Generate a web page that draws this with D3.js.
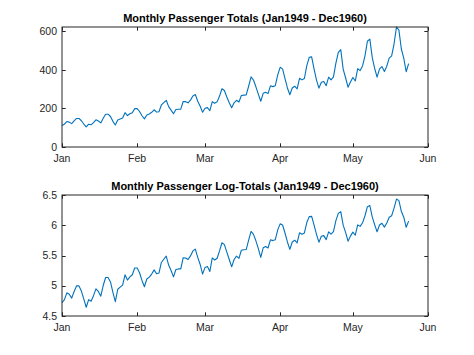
<!DOCTYPE html>
<html><head><meta charset="utf-8">
<script src="https://cdn.jsdelivr.net/npm/d3@7"></script>
<style>body{margin:0;background:#fff;}svg{display:block;}</style>
</head><body>
<script>
const years = [1949,1950,1951,1952,1953,1954,1955,1956,1957,1958,1959,1960];
const passengers = [
112,118,132,129,121,135,148,148,136,119,104,118,
115,126,141,135,125,149,170,170,158,133,114,140,
145,150,178,163,172,178,199,199,184,162,146,166,
171,180,193,181,183,218,230,242,209,191,172,194,
196,196,236,235,229,243,264,272,237,211,180,201,
204,188,235,227,234,264,302,293,259,229,203,229,
242,233,267,269,270,315,364,347,312,274,237,278,
284,277,317,313,318,374,413,405,355,306,271,306,
315,301,356,348,355,422,465,467,404,347,305,336,
340,318,362,348,363,435,491,505,404,359,310,337,
360,342,406,396,420,472,548,559,463,407,362,405,
417,391,419,461,472,535,622,606,508,461,390,432];
const logPassengers = passengers.map(v => Math.log(v));
const yTicksTop = [0,200,400,600];
const yTicksBottom = [4.5,5,5.5,6,6.5];
const titles = ["Monthly Passenger Totals (Jan1949 - Dec1960)","Monthly Passenger Log-Totals (Jan1949 - Dec1960)"];

const W = 474, H = 355;
const svg = d3.select("body").append("svg").attr("width", W).attr("height", H);
const start = Date.UTC(2015,0,1);
const dates = passengers.map((_, i) => new Date(start + i*86400000));
const x = d3.scaleUtc().domain([new Date(Date.UTC(2015,0,1)), new Date(Date.UTC(2015,5,1))]).range([62, 428]);
const axisCol = "#262626";
const font = "'Liberation Sans', Arial, sans-serif";

function panel(values, yDomain, yTicks, top, bottom, title) {
  const y = d3.scaleLinear().domain(yDomain).range([bottom, top]);
  const g = svg.append("g");
  const tl = 3.7;
  // line
  g.append("path").datum(values)
    .attr("fill","none").attr("stroke","#0072BD").attr("stroke-width",1.1)
    .attr("stroke-linejoin","round")
    .attr("d", d3.line().x((d,i)=>x(dates[i])).y(d=>y(d)));
  // box
  g.append("rect").attr("x",62).attr("y",top).attr("width",428-62).attr("height",bottom-top)
    .attr("fill","none").attr("stroke",axisCol).attr("stroke-width",1);
  // x ticks
  const xt = x.ticks(d3.utcMonth.every(1));
  xt.forEach(t => {
    const px = Math.round(x(t))+0.5;
    g.append("line").attr("x1",px).attr("x2",px).attr("y1",bottom).attr("y2",bottom-tl).attr("stroke",axisCol);
    g.append("line").attr("x1",px).attr("x2",px).attr("y1",top).attr("y2",top+tl).attr("stroke",axisCol);
    g.append("text").attr("x",x(t)).attr("y",bottom+15).attr("text-anchor","middle")
      .attr("font-family",font).attr("font-size",10.5).attr("fill",axisCol).text(d3.utcFormat("%b")(t));
  });
  yTicks.forEach(v => {
    const py = Math.round(y(v))+0.5;
    g.append("line").attr("x1",62).attr("x2",62+tl).attr("y1",py).attr("y2",py).attr("stroke",axisCol);
    g.append("line").attr("x1",428).attr("x2",428-tl).attr("y1",py).attr("y2",py).attr("stroke",axisCol);
    g.append("text").attr("x",57).attr("y",y(v)+3.7).attr("text-anchor","end")
      .attr("font-family",font).attr("font-size",10.5).attr("fill",axisCol).text(v);
  });
  g.append("text").attr("x",245).attr("y",top-5).attr("text-anchor","middle")
    .attr("font-family",font).attr("font-size",11).attr("font-weight","bold").attr("fill","#000").text(title);
}
panel(passengers, [0, 622], yTicksTop, 27, 147, titles[0]);
panel(logPassengers, [4.5, 6.5], yTicksBottom, 195, 316, titles[1]);
</script>
</body></html>
